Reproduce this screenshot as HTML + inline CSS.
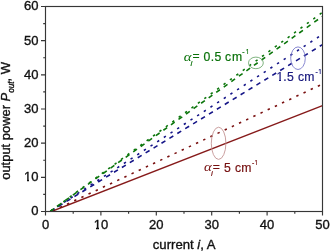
<!DOCTYPE html>
<html><head><meta charset="utf-8">
<title>output power vs current</title>
<style>
html,body{margin:0;padding:0;background:#fff;width:330px;height:252px;overflow:hidden}
svg{display:block}
text{font-family:"Liberation Sans",Arial,sans-serif}
.tk{font-size:13px;fill:#111;stroke:#111;stroke-width:0.35px}
.ax{font-size:13px;fill:#111;stroke:#111;stroke-width:0.35px}
.an{font-size:12.2px;stroke-width:0.2px}
.sp{font-size:6.8px}
.s1{font-size:7.3px;font-family:"NanumGothic","Liberation Sans",sans-serif}
.sb{font-size:8px;font-style:italic;stroke-width:0.2px}
.al{font-family:"Liberation Serif",serif;font-style:italic;font-size:13.5px}
</style></head>
<body>
<svg width="330" height="252" viewBox="0 0 330 252">
<defs><clipPath id="c"><rect x="45.5" y="6.5" width="277" height="205"/></clipPath></defs>
<g clip-path="url(#c)" fill="none" stroke-width="1.6">
  <line x1="51.5" y1="211.5" x2="322.5" y2="105.6" stroke="#861a1a" stroke-width="1.4"/>
  <line x1="51.5" y1="211.5" x2="322.5" y2="84" stroke="#7a1010" stroke-dasharray="2.4 5.52" stroke-dashoffset="6.62"/>
  <line x1="50" y1="211.5" x2="322.5" y2="44.6" stroke="#161688" stroke-dasharray="4.6 4.68" stroke-dashoffset="8.48"/>
  <line x1="50" y1="211.5" x2="322.5" y2="34.4" stroke="#161688" stroke-dasharray="2.4 5.54" stroke-dashoffset="7.14"/>
  <line x1="50" y1="211.5" x2="322.5" y2="16.3" stroke="#0c760c" stroke-dasharray="4.6 4.68" stroke-dashoffset="8.98"/>
  <line x1="50" y1="211.5" x2="322.5" y2="12.3" stroke="#0c760c" stroke-dasharray="2.4 5.54" stroke-dashoffset="7.34"/>
</g>
<ellipse cx="255.9" cy="62.9" rx="7.4" ry="5.8" fill="none" stroke="#70aa70" stroke-width="0.9"/>
<ellipse cx="298" cy="58.2" rx="7.3" ry="11.3" fill="none" stroke="#7a7acc" stroke-width="0.9"/>
<ellipse cx="218.6" cy="143.3" rx="7.3" ry="16.1" fill="none" stroke="#c49494" stroke-width="0.9"/>
<g stroke="#363636" stroke-width="1.15" fill="none">
  <rect x="45.5" y="6.5" width="277" height="205"/>
  <path d="M41 211.5H45.5M41 177.33H45.5M41 143.17H45.5M41 109H45.5M41 74.83H45.5M41 40.67H45.5M41 6.5H45.5"/>
  <path d="M43.2 194.42H45.5M43.2 160.25H45.5M43.2 126.08H45.5M43.2 91.92H45.5M43.2 57.75H45.5M43.2 23.58H45.5"/>
  <path d="M45.5 211.5V215.5M100.9 211.5V215.5M156.3 211.5V215.5M211.7 211.5V215.5M267.1 211.5V215.5M322.5 211.5V215.5"/>
  <path d="M73.2 211.5V213.7M128.6 211.5V213.7M184 211.5V213.7M239.4 211.5V213.7M294.8 211.5V213.7"/>
</g>
<g class="tk" text-anchor="end">
  <text x="38.5" y="215.4">0</text>
  <text x="38.5" y="181.23">10</text>
  <text x="38.5" y="147.07">20</text>
  <text x="38.5" y="112.9">30</text>
  <text x="38.5" y="78.73">40</text>
  <text x="38.5" y="44.57">50</text>
  <text x="38.5" y="10.4">60</text>
</g>
<g class="tk" text-anchor="middle">
  <text x="45.5" y="228.5">0</text>
  <text x="100.9" y="228.5">10</text>
  <text x="156.3" y="228.5">20</text>
  <text x="211.7" y="228.5">30</text>
  <text x="267.1" y="228.5">40</text>
  <text x="322.5" y="228.5">50</text>
</g>
<text class="ax" x="184.2" y="249.3" style="font-size:13.15px" text-anchor="middle">current <tspan font-style="italic">i</tspan>, A</text>
<text class="ax" transform="translate(10,120.9) rotate(-90)" style="font-size:12.93px" text-anchor="middle">output power <tspan font-style="italic">P</tspan><tspan font-style="italic" font-size="8.2" dy="4.2">out</tspan><tspan dy="-4.2">, W</tspan></text>
<text class="al" transform="translate(183.7,60.5) scale(1.1,1)" fill="#0a720a">α</text><text class="sb" x="190.4" y="65.8" fill="#0a720a" stroke="#0a720a">i</text>
<text class="an" fill="#0a720a" stroke="#0a720a"><tspan x="192.6 199.6 203.5 210.8 214.5 221 225 231.9" y="60.4 60.9 60.9 60.9 60.9 60.9 60.9 60.9">= 0.5 cm</tspan><tspan class="sp" x="242.3" y="54.2">-</tspan><tspan class="sp s1" x="245.2">1</tspan></text>
<text class="an" fill="#18187e" stroke="#18187e"><tspan x="276.4 283.3 287.1 293.6 298 304.3" y="80.55 80.55 80.55 80.55 80.55 80.55">1.5 cm</tspan><tspan class="sp" x="315.5" y="74.4">-</tspan><tspan class="sp s1" x="317.8">1</tspan></text>
<text class="al" transform="translate(203.9,171.1) scale(1.1,1)" fill="#761010">α</text><text class="sb" x="210.9" y="176.4" fill="#761010" stroke="#761010">i</text>
<text class="an" fill="#761010" stroke="#761010"><tspan x="212.8 219.6 223.9 230 234.9 241.2" y="171 171.5 171.5 171.5 171.5 171.5">= 5 cm</tspan><tspan class="sp" x="251.9" y="165">-</tspan><tspan class="sp s1" x="254">1</tspan></text>
<g fill="#fff">
  <rect x="24" y="179" width="3" height="3"/><rect x="29" y="179" width="2" height="3"/>
  <rect x="94" y="226" width="2" height="4"/><rect x="99" y="226" width="2" height="4"/>
  <rect x="277" y="78" width="2" height="4"/><rect x="281" y="78" width="2" height="4"/>
</g>
</svg>
</body></html>
